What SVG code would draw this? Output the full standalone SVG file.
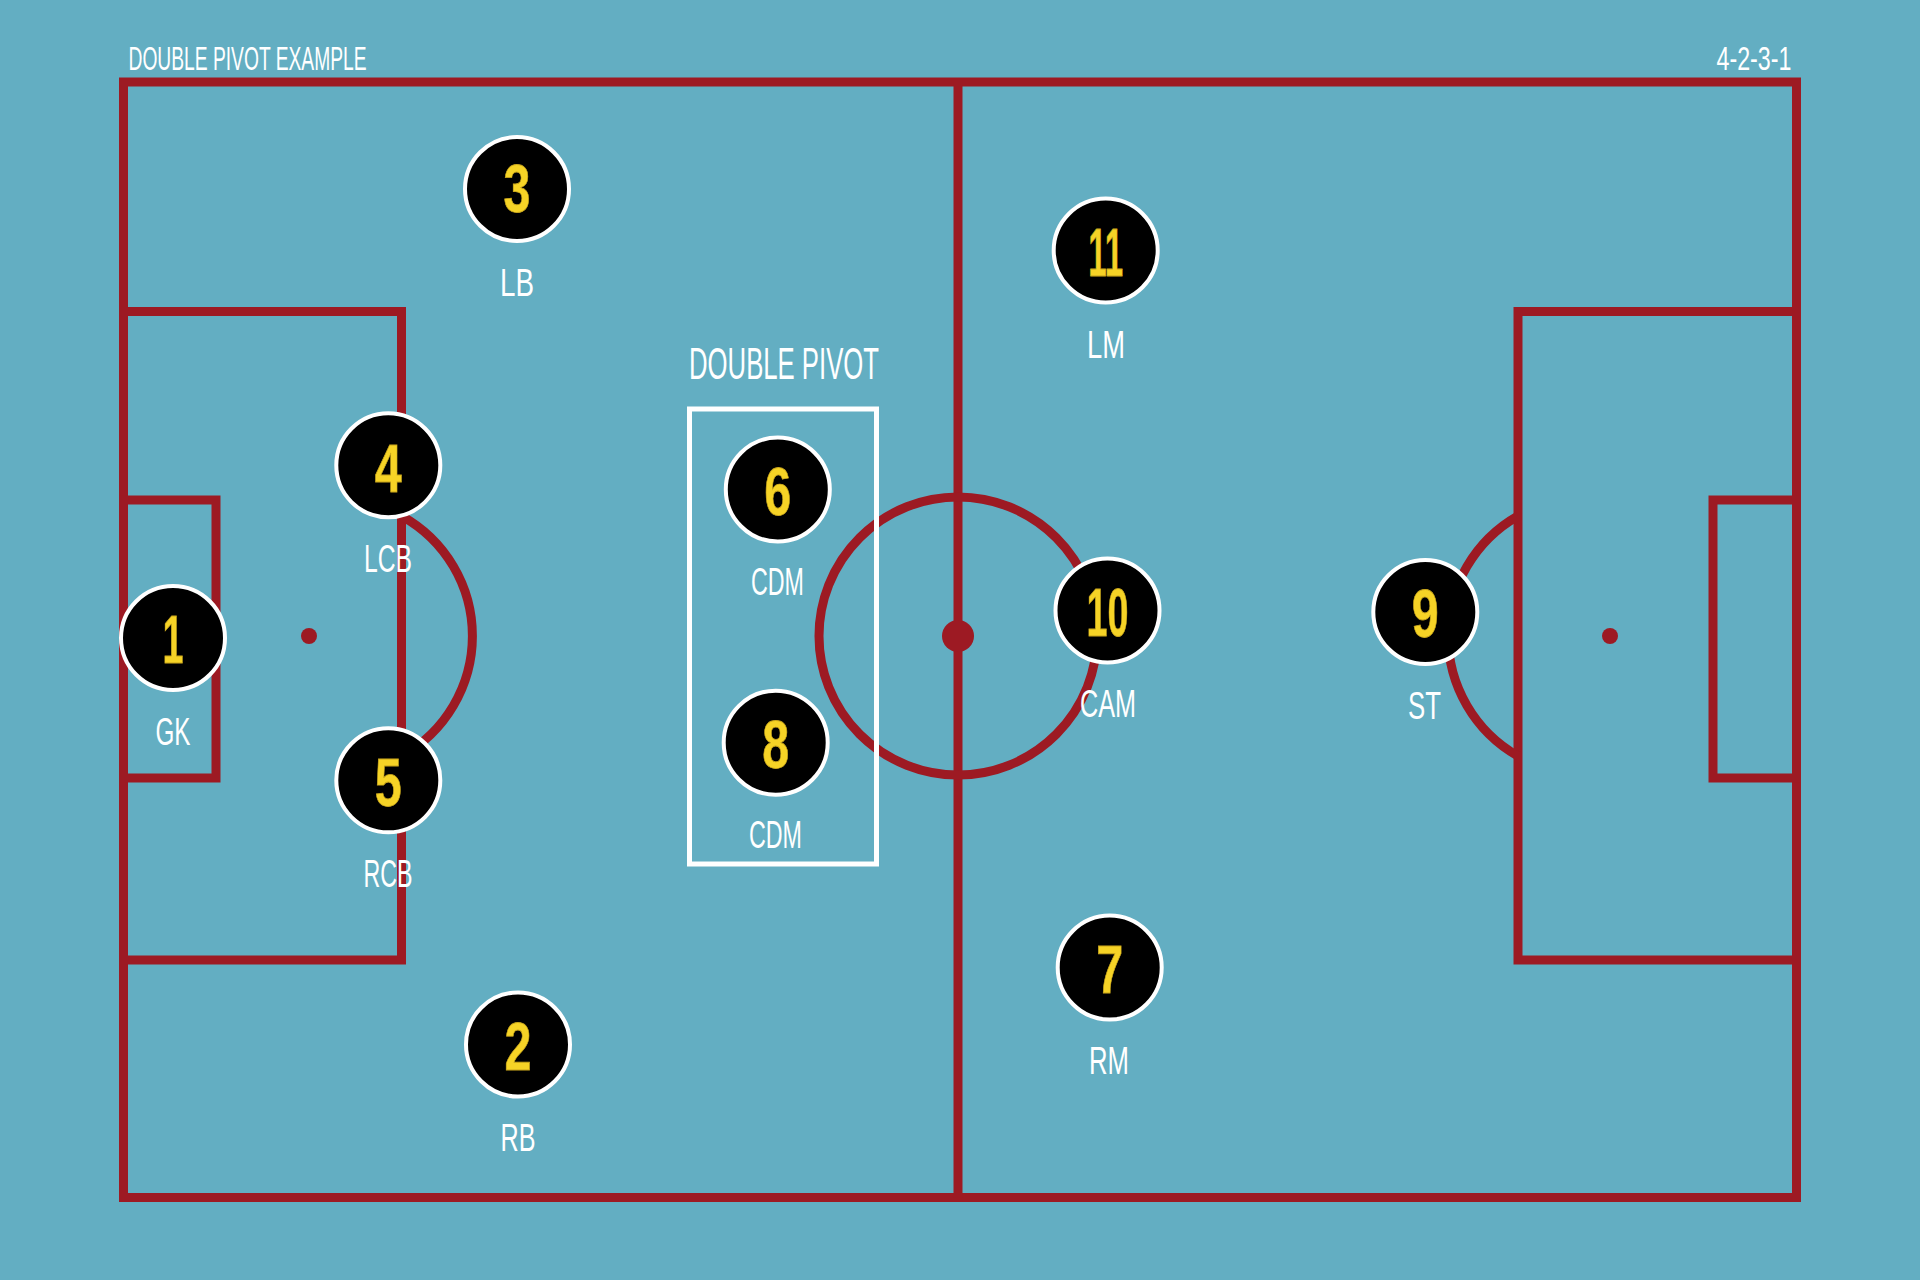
<svg xmlns="http://www.w3.org/2000/svg" width="1920" height="1280" viewBox="0 0 1920 1280">
  <style>
    .line { fill: none; stroke: #9d1a23; stroke-width: 9; }
    .spot { fill: #9d1a23; }
    .disc { fill: #000000; stroke: #ffffff; stroke-width: 4; }
    .num { font-family: "Liberation Sans", Arial, sans-serif; font-weight: bold; font-size: 69px; fill: #f6d326; stroke: #c9a61c; stroke-width: 0.8; text-anchor: middle; }
    .lbl { font-family: "Liberation Sans", Arial, sans-serif; font-size: 39px; fill: #ffffff; text-anchor: middle; }
    .title { font-family: "Liberation Sans", Arial, sans-serif; fill: #ffffff; }
  </style>
  <rect x="0" y="0" width="1920" height="1280" fill="#63aec2"/>

  <g id="pitch">
    <rect class="line" x="123.5" y="82" width="1673" height="1115.5"/>
    <line class="line" x1="958" y1="82" x2="958" y2="1197.5"/>
    <circle class="line" cx="958" cy="636" r="139"/>
    <circle class="spot" cx="958" cy="636" r="16"/>
    <rect class="line" x="123.5" y="311.5" width="278" height="648.5"/>
    <rect class="line" x="123.5" y="500" width="92.5" height="278"/>
    <circle class="spot" cx="309" cy="636" r="8"/>
    <path class="line" d="M401.5 516 A137 137 0 0 1 401.5 756"/>
    <rect class="line" x="1518" y="311.5" width="278.5" height="648.5"/>
    <rect class="line" x="1713" y="500" width="83.5" height="278"/>
    <circle class="spot" cx="1610" cy="636" r="8"/>
    <path class="line" d="M1518 516 A138 138 0 0 0 1518 756"/>
  </g>

  <g id="connectors"></g>

  <g id="titles">
    <text class="title" x="128.5" y="70" font-size="32.5" textLength="238" lengthAdjust="spacingAndGlyphs">DOUBLE PIVOT EXAMPLE</text>
    <text class="title" x="1716.5" y="69.5" font-size="33" textLength="75" lengthAdjust="spacingAndGlyphs">4-2-3-1</text>
  </g>

  <g id="double-pivot">
    <rect x="689.5" y="409" width="187" height="455" fill="none" stroke="#ffffff" stroke-width="5"/>
    <text class="title" x="689" y="379" font-size="45" textLength="190" lengthAdjust="spacingAndGlyphs">DOUBLE PIVOT</text>
  </g>

  <g id="player-1">
    <circle class="disc" cx="173" cy="638" r="52"/>
    <text class="num" x="173" y="663" textLength="21" lengthAdjust="spacingAndGlyphs">1</text>
    <text class="lbl" x="173" y="745" textLength="35" lengthAdjust="spacingAndGlyphs">GK</text>
  </g>
  <g id="player-3">
    <circle class="disc" cx="517" cy="189" r="52"/>
    <text class="num" x="517" y="212" textLength="27" lengthAdjust="spacingAndGlyphs">3</text>
    <text class="lbl" x="517" y="296" textLength="34" lengthAdjust="spacingAndGlyphs">LB</text>
  </g>
  <g id="player-4">
    <circle class="disc" cx="388.3" cy="465.3" r="52"/>
    <text class="num" x="388.3" y="491.5" textLength="27" lengthAdjust="spacingAndGlyphs">4</text>
    <text class="lbl" x="388" y="572" textLength="48" lengthAdjust="spacingAndGlyphs">LCB</text>
  </g>
  <g id="player-5">
    <circle class="disc" cx="388.3" cy="780.3" r="52"/>
    <text class="num" x="388.3" y="806" textLength="27" lengthAdjust="spacingAndGlyphs">5</text>
    <text class="lbl" x="388" y="887" textLength="49" lengthAdjust="spacingAndGlyphs">RCB</text>
  </g>
  <g id="player-2">
    <circle class="disc" cx="518" cy="1044.5" r="52"/>
    <text class="num" x="518" y="1070" textLength="27" lengthAdjust="spacingAndGlyphs">2</text>
    <text class="lbl" x="518" y="1151" textLength="35" lengthAdjust="spacingAndGlyphs">RB</text>
  </g>
  <g id="player-6">
    <circle class="disc" cx="777.8" cy="489.5" r="52"/>
    <text class="num" x="777.8" y="514.5" textLength="27" lengthAdjust="spacingAndGlyphs">6</text>
    <text class="lbl" x="777.5" y="595" textLength="53" lengthAdjust="spacingAndGlyphs">CDM</text>
  </g>
  <g id="player-8">
    <circle class="disc" cx="775.7" cy="742.7" r="52"/>
    <text class="num" x="775.7" y="767.7" textLength="27" lengthAdjust="spacingAndGlyphs">8</text>
    <text class="lbl" x="775.5" y="848" textLength="53" lengthAdjust="spacingAndGlyphs">CDM</text>
  </g>
  <g id="player-11">
    <circle class="disc" cx="1105.7" cy="250.5" r="52"/>
    <text class="num" x="1105.7" y="275.5" textLength="35" lengthAdjust="spacingAndGlyphs">11</text>
    <text class="lbl" x="1106" y="357.5" textLength="38" lengthAdjust="spacingAndGlyphs">LM</text>
  </g>
  <g id="player-10">
    <circle class="disc" cx="1107.5" cy="610.5" r="52"/>
    <text class="num" x="1107.5" y="636" textLength="42" lengthAdjust="spacingAndGlyphs">10</text>
    <text class="lbl" x="1108" y="717" textLength="56" lengthAdjust="spacingAndGlyphs">CAM</text>
  </g>
  <g id="player-7">
    <circle class="disc" cx="1109.7" cy="967.5" r="52"/>
    <text class="num" x="1109.7" y="992.5" textLength="27" lengthAdjust="spacingAndGlyphs">7</text>
    <text class="lbl" x="1109" y="1073.5" textLength="40" lengthAdjust="spacingAndGlyphs">RM</text>
  </g>
  <g id="player-9">
    <circle class="disc" cx="1425.3" cy="612" r="52"/>
    <text class="num" x="1425.3" y="637" textLength="27" lengthAdjust="spacingAndGlyphs">9</text>
    <text class="lbl" x="1424.5" y="718.5" textLength="33" lengthAdjust="spacingAndGlyphs">ST</text>
  </g>
</svg>
